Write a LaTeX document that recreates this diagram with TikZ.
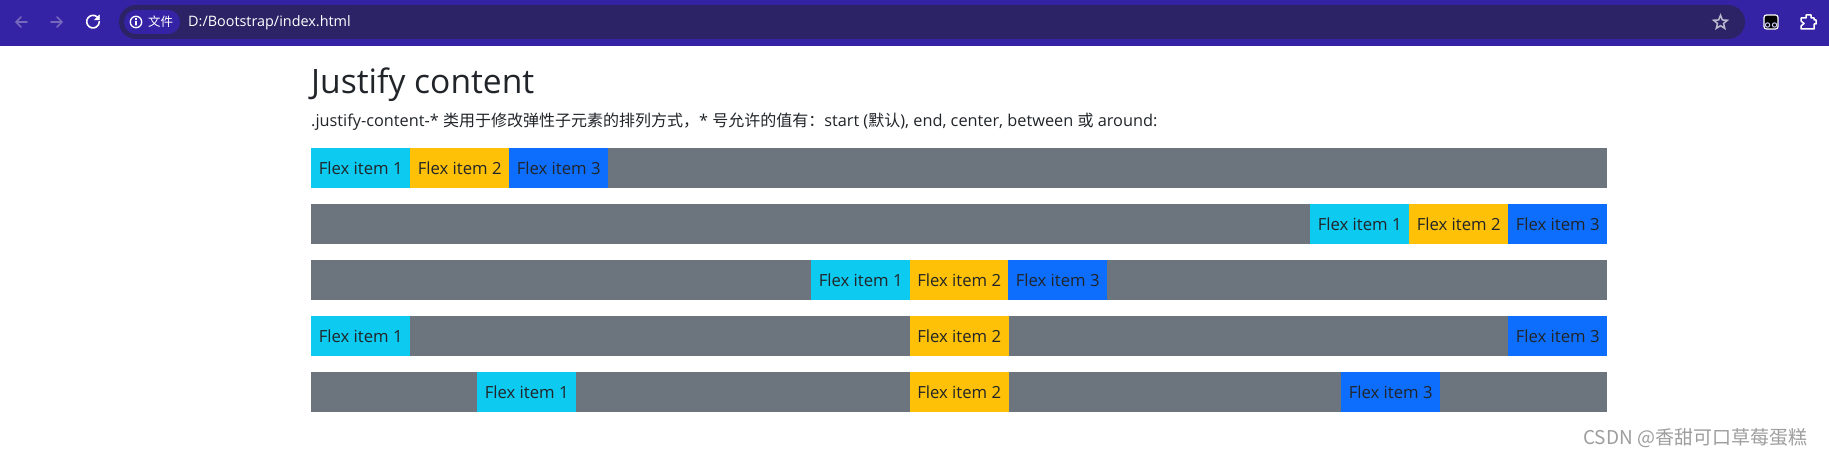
\documentclass[tikz,border=0pt]{standalone}
\usepackage{fontspec}
\usetikzlibrary{shapes.geometric}
\setmainfont{Open Sans}
\newfontfamily\cjk{Noto Sans CJK SC}
\definecolor{barbg}{HTML}{3523A6}
\definecolor{pillbg}{HTML}{2B2366}
\definecolor{dimicon}{HTML}{7469BC}
\definecolor{itemone}{HTML}{0DCAF0}
\definecolor{itemtwo}{HTML}{FFC107}
\definecolor{itemthree}{HTML}{0D6EFD}
\definecolor{rowbg}{HTML}{6C757D}
\definecolor{ink}{HTML}{212529}
\tikzset{
  rowbar/.style={rectangle,fill=rowbg,anchor=north west,inner sep=0pt,minimum width=1296pt,minimum height=40pt},
  flexbox/.style={rectangle,anchor=north west,inner sep=0pt,minimum width=99pt,minimum height=40pt,
    text=ink,font=\fontsize{16.7}{20}\selectfont,text height=14pt,text depth=2pt},
  pagetext/.style={anchor=base west,inner sep=0pt,text=ink},
  icon/.style={line width=1.6pt,line cap=round,line join=round}
}
\newcommand{\cjktext}[1]{{\cjk\fontsize{16}{22}\selectfont #1}}
\begin{document}
\begin{tikzpicture}[x=1pt,y=-1pt]
        \useasboundingbox (0,0) rectangle (1829,457);
        \fill[white] (0,0) rectangle (1829,457);

        % browser toolbar
        \fill[barbg] (0,0) rectangle (1829,45.7);
        \fill[pillbg,rounded corners=17pt] (119,5) rectangle (1745,39);
        \fill[barbg,rounded corners=12pt] (124,10) rectangle (180,34);

        \draw[icon,dimicon] (27,22) -- (16,22) (21,17) -- (16,22) -- (21,27);
        \draw[icon,dimicon] (51,22) -- (62,22) (57,17) -- (62,22) -- (57,27);
        \draw[icon,white] (98.5,18.5) arc (-30:-360:6.3);
        \draw[white,fill=white] (99.5,15) -- (99.5,20) -- (94.5,20) -- cycle;

        \draw[white,line width=1.3pt] (136,22) circle (5.7);
        \fill[white] (135.2,21) rectangle (136.8,25.5) (135.2,18.2) rectangle (136.8,19.8);
        \node[anchor=base west,inner sep=0pt,text=white,font=\cjk\fontsize{12.5}{14}\selectfont] (chip) at (148,27) {文件};
        \node[anchor=base west,inner sep=0pt,text=white,font=\fontsize{14.4}{18}\selectfont] (url) at (188,27) {D:/Bootstrap/index.html};

        \node[star,star points=5,star point ratio=2.3,draw=white!68!pillbg,line width=1.5pt,inner sep=0pt,minimum size=14.5pt] (fav) at (1720.5,22.5) {};

        \draw[white,fill=black,line width=1.2pt,rounded corners=2.5pt] (1764,15) rectangle (1778,29);
        \draw[white!80!blue,line width=1pt] (1767.5,25) circle (2.2) (1774.5,25) circle (2.2);

        \draw[icon,white,line width=1.5pt] (1801,18) -- (1806,18) -- (1806,15) -- (1811,15) -- (1811,18) -- (1814,18)
           -- (1814,20) -- (1816,20) -- (1816,24) -- (1814,24) -- (1814,29) -- (1801,29) -- (1801,26) -- (1804,23.5) -- (1801,21) -- cycle;

        % page heading
        \node[pagetext,font=\fontsize{33.6}{40}\selectfont] (title) at (311,93.5) {Justify content};
        \node[pagetext,font=\fontsize{16.3}{22}\selectfont] (intro) at (311,127)
          {.justify-content-* \cjktext{类用于修改弹性子元素的排列方式，}* \cjktext{号允许的值有：}start (\cjktext{默认}), end, center, between \cjktext{或} around:};

        % five rows
        \foreach \rowid/\rowy/\xa/\xb/\xc in {1/148/311/410/509,2/204/1310/1409/1508,
                                             3/260/811/909.5/1008,4/316/311/909.5/1508,5/372/477/909.5/1341}{
          \node[rowbar] (row\rowid) at (311,\rowy) {};
          \node[flexbox,fill=itemone] (one\rowid) at (\xa,\rowy) {Flex item 1};
          \node[flexbox,fill=itemtwo] (two\rowid) at (\xb,\rowy) {Flex item 2};
          \node[flexbox,fill=itemthree] (three\rowid) at (\xc,\rowy) {Flex item 3};
        }

        \node[anchor=base west,inner sep=0pt,text=black!38,font=\cjk\fontsize{19}{22}\selectfont] (mark) at (1583,444) {CSDN @香甜可口草莓蛋糕};
       \end{tikzpicture}
\end{document}
